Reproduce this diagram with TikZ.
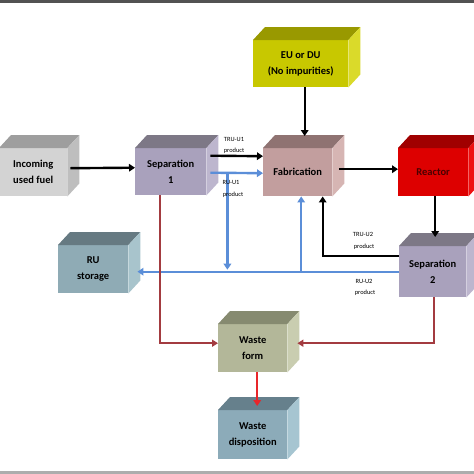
\documentclass[tikz,border=0pt]{standalone}
\usepackage{fontspec}
\setmainfont{Carlito}
\usetikzlibrary{arrows.meta}
\definecolor{incF}{HTML}{D3D3D3}\definecolor{incT}{HTML}{9E9E9E}\definecolor{incS}{HTML}{BEBEBE}
\definecolor{sepF}{HTML}{A9A1BC}\definecolor{sepT}{HTML}{7D7886}\definecolor{sepS}{HTML}{BDB6CE}
\definecolor{fabF}{HTML}{C29E9E}\definecolor{fabT}{HTML}{8F7372}\definecolor{fabS}{HTML}{D6B5B3}
\definecolor{reaF}{HTML}{DD0000}\definecolor{reaT}{HTML}{A00000}\definecolor{reaS}{HTML}{EE1111}
\definecolor{euF}{HTML}{C8C800}\definecolor{euT}{HTML}{999900}\definecolor{euS}{HTML}{DADA2A}
\definecolor{ruF}{HTML}{8FABB5}\definecolor{ruT}{HTML}{667A82}\definecolor{ruS}{HTML}{A8C4CC}
\definecolor{wfF}{HTML}{B3B799}\definecolor{wfT}{HTML}{868A70}\definecolor{wfS}{HTML}{C9CDB0}
\definecolor{wdF}{HTML}{8CABB9}\definecolor{wdT}{HTML}{66808C}\definecolor{wdS}{HTML}{A6C5D1}
\definecolor{flowblue}{HTML}{5B8ED8}
\definecolor{flowdred}{HTML}{A33B40}
\definecolor{flowred}{HTML}{E8262A}
\definecolor{reatext}{HTML}{4A0000}
\newcommand\boxfont{\fontsize{10.5}{16}\selectfont\bfseries}
\newcommand\lblfont{\fontsize{6.4}{12}\selectfont}
\newcommand\cubefaces[3]{%
  \fill[#2] (#1.north west) -- ++(12,-13) -- ([shift={(12,-13)}]#1.north east) -- (#1.north east) -- cycle;
  \fill[#3] (#1.north east) -- ++(12,-13) -- ([shift={(12,-13)}]#1.south east) -- (#1.south east) -- cycle;}
\tikzset{
  cubebox/.style={draw=none, inner sep=0pt, align=center, font=\boxfont, anchor=north west, minimum width=70pt, minimum height=48pt},
  blackflow/.style={draw=black, line width=2.4pt, -{Triangle[length=6pt,width=7.5pt]}},
  blueflow/.style={draw=flowblue, line width=2.4pt, -{Triangle[length=6pt,width=7.5pt]}},
  dredflow/.style={draw=flowdred, line width=1.9pt, -{Triangle[length=6pt,width=7pt]}},
  redflow/.style={draw=flowred, line width=2.4pt, -{Triangle[length=6pt,width=7.5pt]}},
  lbl/.style={font=\lblfont, inner sep=0pt, align=center}
}
\begin{document}
\begin{tikzpicture}[x=1pt,y=-1pt]
\useasboundingbox (0,0) rectangle (474,474);
\clip (0,0) rectangle (474,474);
\fill[white] (0,0) rectangle (474,474);
\fill[black!68] (0,0) rectangle (474,2.5);
\fill[black!32] (0,471) rectangle (474,474);
% boxes
\node[cubebox, fill=incF, minimum width=68pt] (inc) at (-1,148) {Incoming\\used fuel};
\node[cubebox, fill=sepF, minimum width=71pt, minimum height=47pt] (sep1) at (135,148) {Separation\\1};
\node[cubebox, fill=fabF, minimum width=69pt] (fab) at (263,148) {Fabrication};
\node[cubebox, fill=reaF, text=reatext] (rea) at (398,148) {Reactor};
\node[cubebox, fill=euF, minimum width=95pt, minimum height=47pt] (eu) at (253,40) {EU or DU\\(No impurities)};
\node[cubebox, fill=ruF] (ru) at (58,245) {RU\\storage};
\node[cubebox, fill=sepF, minimum width=67pt, minimum height=51pt] (sep2) at (399,246) {Separation\\2};
\node[cubebox, fill=wfF, minimum width=69pt] (wf) at (218,324) {Waste\\form};
\node[cubebox, fill=wdF, minimum width=69pt, minimum height=49pt] (wd) at (218,410) {Waste\\disposition};
\cubefaces{inc}{incT}{incS}
\cubefaces{sep1}{sepT}{sepS}
\cubefaces{fab}{fabT}{fabS}
\cubefaces{rea}{reaT}{reaS}
\cubefaces{eu}{euT}{euS}
\cubefaces{ru}{ruT}{ruS}
\cubefaces{sep2}{sepT}{sepS}
\cubefaces{wf}{wfT}{wfS}
\cubefaces{wd}{wdT}{wdS}
% connectors
\draw[blackflow] ([xshift=3pt,yshift=4pt]inc.east) -- ([yshift=4pt]sep1.west);
\draw[blackflow] ([xshift=4pt,yshift=16pt]sep1.east) -- ([yshift=16pt]fab.west);
\draw[blueflow] ([xshift=4pt,yshift=-1pt]sep1.east) coordinate (ruu1) -- ([yshift=-1pt]fab.west);
\coordinate (bdrop) at ([xshift=17pt]ruu1);
\draw[blueflow] (bdrop) -- ([yshift=2pt]bdrop |- sep2.west);
\draw[blueflow] (sep2.west) -- ([xshift=9pt]sep2.west -| ru.east);
\draw[blueflow] ([xshift=3.5pt]fab.south |- sep2.west) -- ([xshift=3.5pt]fab.south);
\draw[blackflow] ([yshift=16pt]sep2.west) -| ([xshift=25pt]fab.south);
\draw[blackflow] ([xshift=7pt,yshift=3pt]fab.east) -- ([yshift=3pt]rea.west);
\draw[blackflow] ([xshift=2pt]rea.south) -- ([xshift=2pt,yshift=9pt]rea.south |- sep2.north);
\draw[blackflow] ([xshift=4pt]eu.south) -- ([xshift=4pt,yshift=12pt]eu.south |- fab.north);
\draw[dredflow] ([xshift=-10.5pt]sep1.south) |- ([yshift=5pt]wf.west);
\draw[dredflow] ([xshift=1.5pt]sep2.south) |- ([xshift=10pt,yshift=5pt]wf.east);
\draw[redflow] ([xshift=4.5pt]wf.south) -- ([xshift=4.5pt,yshift=4pt]wd.north);
% labels
\node[lbl] (l1) at (234,139) {TRU-U1};
\node[lbl] (l2) at (234,151) {product};
\node[lbl] (l3) at (231,182) {RU-U1};
\node[lbl] (l4) at (233,195) {product};
\node[lbl] (l5) at (363,234) {TRU-U2};
\node[lbl] (l6) at (364,247) {product};
\node[lbl] (l7) at (364,281) {RU-U2};
\node[lbl] (l8) at (365,293) {product};
\end{tikzpicture}
\end{document}
